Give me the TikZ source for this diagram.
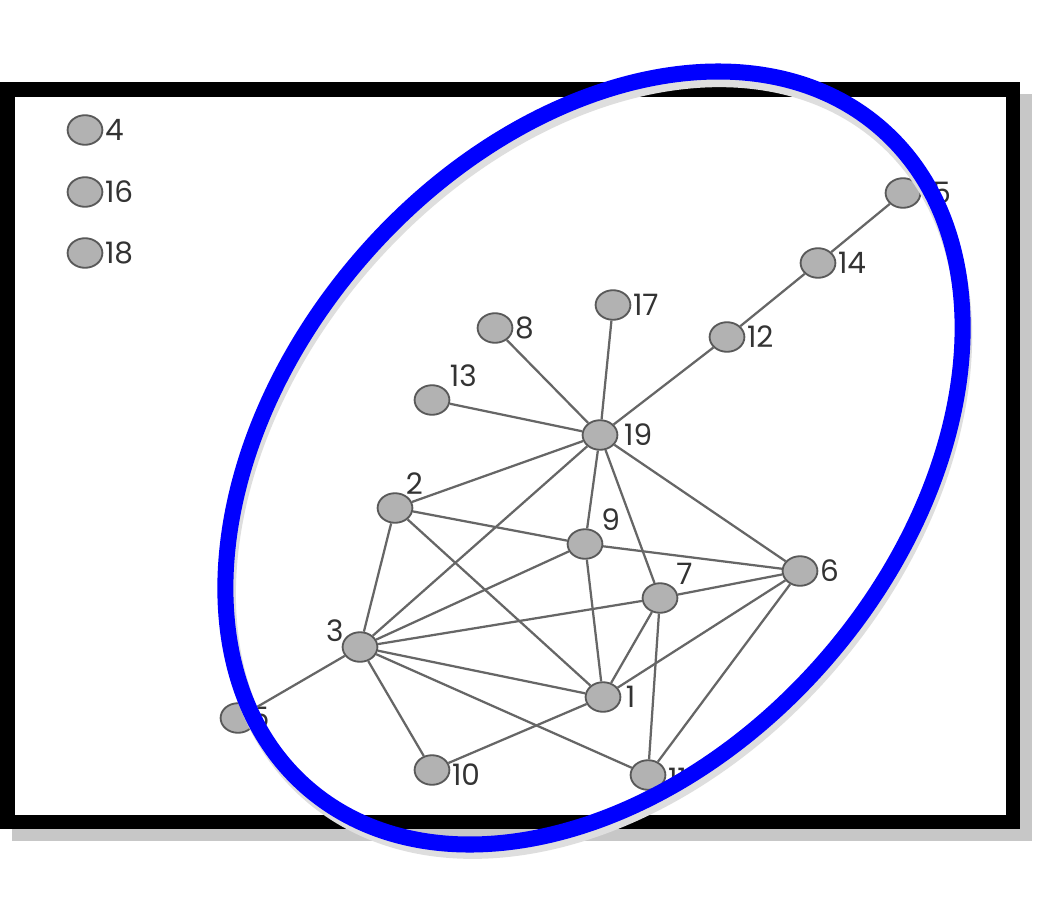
\documentclass[tikz,border=0pt]{standalone}
\usepackage{fontspec}
\setmainfont{Poppins}
\usepackage{tikz}
\usetikzlibrary{shapes.geometric, positioning, calc}

\begin{document}
\begin{tikzpicture}[
    x=0.025cm, y=-0.025cm,
    vertex/.style={ellipse, draw=black!65, fill=black!30, line width=1.3pt, minimum width=0.87cm, minimum height=0.74cm, inner sep=0pt},
    lbl/.style={font=\fontsize{21}{21}\selectfont, text=black!80, inner sep=1pt},
    edge/.style={draw=black!60, line width=1.6pt},
    frame/.style={line width=10.6pt},
    every label/.style={label distance=0pt}
]
\useasboundingbox (0,0) rectangle (1040,922);

% Marco con sombra
\draw[frame, draw=black!22] (19.5,101.5) rectangle (1025,834);
\draw[frame, draw=black, fill=white] (7.5,89.5) rectangle (1013,822);

% Nodos aislados
\node[vertex, label={[lbl]right:4}] (n4) at (85,130) {};
\node[vertex, label={[lbl]right:16}] (n16) at (85,192) {};
\node[vertex, label={[lbl]right:18}] (n18) at (85,253) {};

% Nodos del grafo
\node[vertex, label={[lbl]right:15}] (n15) at (903,193) {};
\node[vertex, label={[lbl]right:14}] (n14) at (818,263) {};
\node[vertex, label={[lbl]right:12}] (n12) at (727,337) {};
\node[vertex, label={[lbl]right:17}] (n17) at (613,305) {};
\node[vertex, label={[lbl]right:8}] (n8) at (495,328) {};
\node[vertex, label={[lbl, xshift=3pt]above right:13}] (n13) at (432,400) {};
\node[vertex, label={[lbl, xshift=3pt]right:19}] (n19) at (600,435) {};
\node[vertex, label={[lbl, xshift=-2pt]above right:2}] (n2) at (395,508) {};
\node[vertex, label={[lbl, xshift=2pt]above right:9}] (n9) at (585,544) {};
\node[vertex, label={[lbl, xshift=2pt]above right:7}] (n7) at (660,598) {};
\node[vertex, label={[lbl]right:6}] (n6) at (800,571) {};
\node[vertex, label={[lbl, xshift=-2pt, yshift=-6pt]above left:3}] (n3) at (360,647) {};
\node[vertex, label={[lbl, xshift=2pt]right:1}] (n1) at (603,697) {};
\node[vertex, label={[lbl, yshift=-3pt]right:10}] (n10) at (432,770) {};
\node[vertex, label={[lbl, yshift=-3pt]right:11}] (n11) at (648,775) {};
\node[vertex, label={[lbl, xshift=-5pt]right:5}] (n5) at (238,718) {};

% Aristas
\draw[edge] (n15) -- (n14);
\draw[edge] (n14) -- (n12);
\draw[edge] (n12) -- (n19);
\draw[edge] (n17) -- (n19);
\draw[edge] (n8) -- (n19);
\draw[edge] (n13) -- (n19);
\draw[edge] (n19) -- (n2);
\draw[edge] (n19) -- (n3);
\draw[edge] (n19) -- (n9);
\draw[edge] (n19) -- (n7);
\draw[edge] (n19) -- (n6);
\draw[edge] (n2) -- (n3);
\draw[edge] (n2) -- (n9);
\draw[edge] (n2) -- (n1);
\draw[edge] (n9) -- (n3);
\draw[edge] (n9) -- (n6);
\draw[edge] (n9) -- (n1);
\draw[edge] (n7) -- (n3);
\draw[edge] (n7) -- (n6);
\draw[edge] (n7) -- (n1);
\draw[edge] (n7) -- (n11);
\draw[edge] (n6) -- (n1);
\draw[edge] (n6) -- (n11);
\draw[edge] (n3) -- (n1);
\draw[edge] (n3) -- (n11);
\draw[edge] (n3) -- (n10);
\draw[edge] (n3) -- (n5);
\draw[edge] (n1) -- (n10);

% Elipse azul (con sombra)
\draw[draw=black!13, line width=11.4pt, rotate around={49:(596,465)}] (596,465) ellipse [x radius=436, y radius=307];
\draw[draw=blue, line width=11.4pt, rotate around={49:(594,458)}] (594,458) ellipse [x radius=437, y radius=307];

\end{tikzpicture}
\end{document}
